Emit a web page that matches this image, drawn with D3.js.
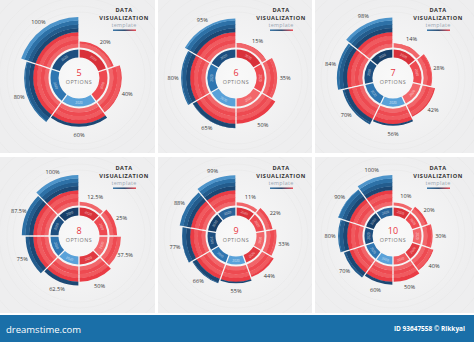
<!DOCTYPE html>
<html>
<head>
<meta charset="utf-8">
<script src="https://cdn.jsdelivr.net/npm/d3@7"></script>
<style>
  body { margin: 0; background: #fff; }
  svg { display: block; font-family: "Open Sans", "DejaVu Sans", sans-serif; }
</style>
</head>
<body>
<script>
let width = 474,
    height = 342;

// values for each of the six charts (percent)
const values5 = [20, 40, 60, 80, 100];
const values6 = [15, 35, 50, 65, 80, 95];
const values7 = [14, 28, 42, 56, 70, 84, 98];
const values8 = [12.5, 25, 37.5, 50, 62.5, 75, 87.5, 100];
const values9 = [11, 22, 33, 44, 55, 66, 77, 88, 99];
const values10 = [10, 20, 30, 40, 50, 60, 70, 80, 90, 100];
const allValues = [values5, values6, values7, values8, values9, values10];

const titleLines = ["DATA", "VISUALIZATION"];
const subTitle = "template";
const centerWord = "OPTIONS";
const ringLabel = "2020";
const siteName = "dreamstime.com";
const imageId = "ID 93647558 \u00a9 Rikkyal";

// panel layout
const colX = [0, 158, 315], colW = [155, 154, 159];
const rowY = [0, 157], rowH = [153, 156];
const centersX = [79, 236, 393], centersY = [78, 236];

const reds = ["#f1666a", "#ee4a51", "#f05a5f", "#ea3c45"];
const blues = ["#1c4874", "#235c8d", "#2d71a7", "#4d94ca"];
const innerReds = ["#d9313a", "#ee4a51", "#f2676b", "#e13a42", "#f05a5f"];
const innerBlues = ["#5aa2d9", "#2f76b1", "#1d4f80", "#173f69", "#2a6499"];

const bandEdges = [30.5, 34.3, 38.1, 41.9, 45.8, 49.8, 53.6, 57.4, 61.5];

let svg = d3.select("body").append("svg")
    .attr("width", width)
    .attr("height", height);

let defs = svg.append("defs");

let bg = defs.append("radialGradient").attr("id", "panelBg");
bg.append("stop").attr("offset", "0%").attr("stop-color", "#f9f9f9");
bg.append("stop").attr("offset", "100%").attr("stop-color", "#eeeeef");

let lg = defs.append("linearGradient").attr("id", "legendLine");
lg.append("stop").attr("offset", "0%").attr("stop-color", "#2a6da3");
lg.append("stop").attr("offset", "50%").attr("stop-color", "#1d3f66");
lg.append("stop").attr("offset", "100%").attr("stop-color", "#ef3b45");

let r = d3.scaleLinear().domain([0, 100]).range([30.5, 61]);

let arc = d3.arc().padRadius(100).padAngle(0.013);

allValues.forEach(function (vals, p) {
    let col = p % 3, row = Math.floor(p / 3);
    let n = vals.length;

    svg.append("rect")
        .attr("x", colX[col]).attr("y", rowY[row])
        .attr("width", colW[col]).attr("height", rowH[row])
        .attr("fill", "url(#panelBg)");

    let clip = defs.append("clipPath").attr("id", "clip" + p);
    clip.append("rect")
        .attr("x", colX[col]).attr("y", rowY[row])
        .attr("width", colW[col]).attr("height", rowH[row]);

    let g = svg.append("g")
        .attr("clip-path", "url(#clip" + p + ")")
        .append("g")
        .attr("transform", "translate(" + centersX[col] + "," + centersY[row] + ")");

    // faint rings in the background
    g.selectAll(".halo")
        .data([66, 72, 80, 90, 102])
        .enter().append("circle")
        .attr("r", d => d)
        .attr("fill", "none")
        .attr("stroke", "#e6e6e6")
        .attr("stroke-width", 0.5);

    let step = 2 * Math.PI / n;
    let segs = vals.map((v, i) => ({ v: v, i: i, a0: i * step, a1: (i + 1) * step }));

    // outer segments built from concentric bands
    segs.forEach(function (s) {
        let outer = r(s.v);
        for (let b = 0; b < bandEdges.length - 1; b++) {
            let r0 = bandEdges[b], r1 = Math.min(bandEdges[b + 1] + 0.3, outer);
            if (r0 >= outer) break;
            g.append("path")
                .attr("d", arc({ innerRadius: r0, outerRadius: r1, startAngle: s.a0, endAngle: s.a1 }))
                .attr("fill", b < 4 ? reds[b] : blues[b - 4]);
        }
    });

    // inner ring
    let redCount = Math.floor(n / 2);
    g.selectAll(".inner")
        .data(segs)
        .enter().append("path")
        .attr("d", d => arc({ innerRadius: 20.5, outerRadius: 28.5, startAngle: d.a0, endAngle: d.a1 }))
        .attr("fill", d => d.i < redCount ? innerReds[d.i % innerReds.length] : innerBlues[(d.i - redCount) % innerBlues.length]);

    g.selectAll(".ringText")
        .data(segs)
        .enter().append("text")
        .attr("transform", function (d) {
            let a = (d.a0 + d.a1) / 2;
            let x = Math.sin(a) * 24.5, y = -Math.cos(a) * 24.5;
            let deg = a * 180 / Math.PI;
            if (deg > 90 && deg < 270) deg -= 180;
            return "translate(" + x + "," + y + ") rotate(" + deg + ")";
        })
        .attr("text-anchor", "middle")
        .attr("dy", "0.35em")
        .attr("fill", "#fff")
        .attr("opacity", 0.7)
        .attr("font-size", 3.2)
        .text(ringLabel);

    // value labels
    g.selectAll(".pct")
        .data(segs)
        .enter().append("text")
        .attr("x", d => Math.sin((d.a0 + d.a1) / 2) * (r(d.v) + 8))
        .attr("y", d => -Math.cos((d.a0 + d.a1) / 2) * (r(d.v) + 8))
        .attr("text-anchor", "middle")
        .attr("dy", "0.35em")
        .attr("font-size", 5.6)
        .attr("fill", "#3a3a3a")
        .text(d => d.v + "%");

    // center text
    g.append("text")
        .attr("y", -2)
        .attr("text-anchor", "middle")
        .attr("font-size", 9)
        .attr("fill", "#e8343f")
        .text(n);
    g.append("text")
        .attr("y", 5.5)
        .attr("text-anchor", "middle")
        .attr("font-size", 5.4)
        .attr("letter-spacing", 0.5)
        .attr("fill", "#777")
        .text(centerWord);

    // legend block
    let lgd = g.append("g").attr("transform", "translate(45,-66)");
    lgd.selectAll(".title")
        .data(titleLines)
        .enter().append("text")
        .attr("y", (d, i) => i * 7.5)
        .attr("text-anchor", "middle")
        .attr("font-size", 5.6)
        .attr("font-weight", "bold")
        .attr("letter-spacing", 0.5)
        .attr("fill", "#333")
        .text(d => d);
    lgd.append("text")
        .attr("y", 14.5)
        .attr("text-anchor", "middle")
        .attr("font-size", 5.4)
        .attr("letter-spacing", 0.3)
        .attr("fill", "#9aa6b2")
        .text(subTitle);
    lgd.append("rect")
        .attr("x", -11).attr("y", 17.5)
        .attr("width", 23).attr("height", 1.4)
        .attr("fill", "url(#legendLine)");
});

// footer banner
svg.append("rect")
    .attr("x", 0).attr("y", 315)
    .attr("width", width).attr("height", height - 315)
    .attr("fill", "#1a6fa8");
svg.append("text")
    .attr("x", 6).attr("y", 333)
    .attr("font-size", 9.5)
    .attr("fill", "#fff")
    .text(siteName);
svg.append("text")
    .attr("x", 465).attr("y", 331)
    .attr("text-anchor", "end")
    .attr("font-size", 6.5)
    .attr("font-weight", "bold")
    .attr("fill", "#fff")
    .text(imageId);
</script>
</body>
</html>
